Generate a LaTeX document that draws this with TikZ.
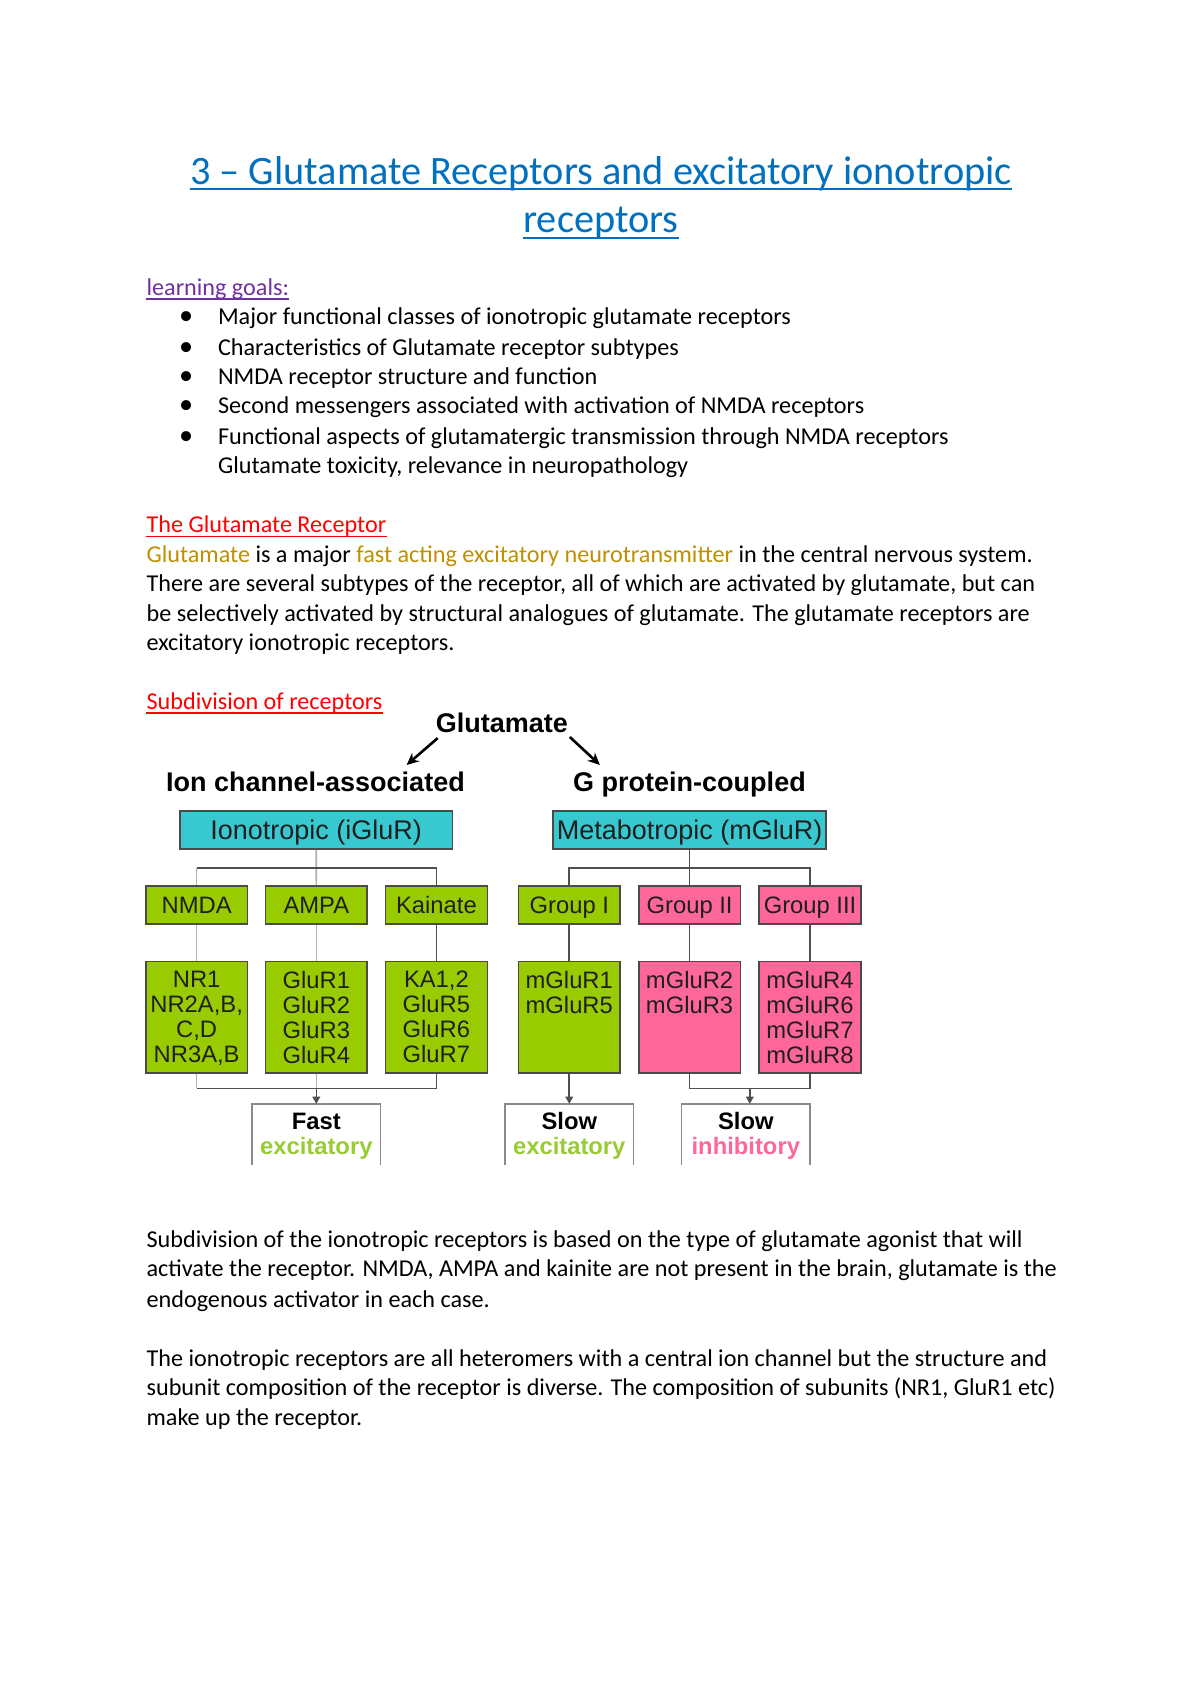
\documentclass[tikz,border=0pt]{standalone}
\usepackage{fontspec}
\setmainfont{Carlito}
\newfontfamily\diafont{Liberation Sans}
\usetikzlibrary{arrows.meta}
\newcommand{\pxu}{0.5373pt}
\definecolor{titleblue}{HTML}{0070C0}
\definecolor{goalpurple}{HTML}{7030A0}
\definecolor{headred}{HTML}{FF0000}
\definecolor{goldtxt}{HTML}{BF9000}
\definecolor{cyanbox}{HTML}{38C9D0}
\definecolor{greenbox}{HTML}{99CC00}
\definecolor{pinkbox}{HTML}{FF6699}
\definecolor{excgreen}{HTML}{99CC33}
\definecolor{inhpink}{HTML}{FF6699}
\definecolor{boxline}{HTML}{4A4A4A}
\definecolor{lightline}{HTML}{B0B0B0}
\definecolor{darkline}{HTML}{505050}
\definecolor{openline}{HTML}{8A8A8A}
\begin{document}
\begin{tikzpicture}[x=0.5373pt,y=-0.5373pt,
  txt/.style={inner sep=0pt, anchor=base west, font=\fontsize{12}{14.6}\selectfont},
  ttl/.style={inner sep=0pt, anchor=base, text=titleblue, font=\fontsize{20}{24}\selectfont},
  bul/.style={inner sep=0pt, anchor=base, font=\fontsize{14}{14.6}\selectfont},
  dlabel/.style={inner sep=0pt, anchor=base, font=\diafont\bfseries\fontsize{13.4}{16}\selectfont},
  rbox/.style={draw=boxline, line width=0.8pt, inner sep=0pt, minimum height=35*\pxu,
    text=black!88, font=\diafont\fontsize{11.8}{12.4}\selectfont, text height=8.45pt, text depth=0pt},
  topbox/.style={rbox, fill=cyanbox, minimum width=252*\pxu, font=\diafont\fontsize{13.4}{14}\selectfont, text height=9.6pt},
  clsbox/.style={rbox, minimum width=94*\pxu},
  subbox/.style={draw=boxline, line width=0.8pt, inner sep=0pt, minimum width=94*\pxu, minimum height=103*\pxu},
  subtxt/.style={inner sep=0pt, anchor=north, align=center, text=black!88, font=\diafont\fontsize{11.8}{12.4}\selectfont},
  outbox/.style={inner sep=0pt, minimum width=118*\pxu, minimum height=55.3*\pxu},
  outline/.style={draw=openline, line width=0.8pt},
  outtxt/.style={inner sep=0pt, anchor=base, font=\diafont\bfseries\fontsize{11.8}{12.4}\selectfont},
  lg/.style={draw=lightline, line width=0.8pt},
  dg/.style={draw=darkline, line width=0.8pt},
  tip/.style={-{Triangle[length=3.6pt,width=3.8pt]}},
  garr/.style={draw=black, line width=1.3pt, -{Stealth[length=6pt,width=5.5pt]}},
  uline/.style={line width=0.8pt}
]
\useasboundingbox (0,0) rectangle (1108,1568);
\fill[white] (0,0) rectangle (1108,1568);

% ---------- title ----------
\node[ttl] (t1) at (555,170) {3 – Glutamate Receptors and excitatory ionotropic};
\node[ttl] (t2) at (555,215) {receptors};
\draw[titleblue, line width=1.1pt] ([yshift=-2.6pt]t1.base west) -- ([yshift=-2.6pt]t1.base east);
\draw[titleblue, line width=1.1pt] ([yshift=-2.6pt]t2.base west) -- ([yshift=-2.6pt]t2.base east);

% ---------- learning goals ----------
\node[txt, text=goalpurple] (lg) at (135,273) {learning goals:};
\draw[goalpurple, uline] ([yshift=-1.8pt]lg.base west) -- ([yshift=-1.8pt]lg.base east);
\node[bul] (b1) at (172,300) {•};
\node[bul] (b2) at (172,328) {•};
\node[bul] (b3) at (172,355) {•};
\node[bul] (b4) at (172,382) {•};
\node[bul] (b5) at (172,410) {•};
\node[txt] (g1l) at (201,300) {Major functional classes of ionotropic glutamate receptors};
\node[txt] (g2l) at (201,328) {Characteristics of Glutamate receptor subtypes};
\node[txt] (g3l) at (201,355) {NMDA receptor structure and function};
\node[txt] (g4l) at (201,382) {Second messengers associated with activation of NMDA receptors};
\node[txt] (g5l) at (201,410) {Functional aspects of glutamatergic transmission through NMDA receptors};
\node[txt] (g6l) at (201,437) {Glutamate toxicity, relevance in neuropathology};

% ---------- The Glutamate Receptor ----------
\node[txt, text=headred] (h1) at (135,492) {The Glutamate Receptor\ };
\draw[headred, uline] ([yshift=-1.8pt]h1.base west) -- ([yshift=-1.8pt]h1.base east);
\node[txt] (p1) at (135,519) {\textcolor{goldtxt}{Glutamate} is a major \textcolor{goldtxt}{fast acting excitatory neurotransmitter} in the central nervous system.};
\node[txt] (p2) at (135,546) {There are several subtypes of the receptor, all of which are activated by glutamate, but can};
\node[txt] (p3) at (135,574) {be selectively activated by structural analogues of glutamate. The glutamate receptors are};
\node[txt] (p4) at (135,601) {excitatory ionotropic receptors.};

\node[txt, text=headred] (h2) at (135,655) {Subdivision of receptors\ };
\draw[headred, uline] ([yshift=-1.8pt]h2.base west) -- ([yshift=-1.8pt]h2.base east);

% ---------- diagram ----------
\node[dlabel] (glu) at (463.5,676.5) {Glutamate};
\node[dlabel] (ion) at (291.3,731) {Ion channel-associated};
\node[dlabel] (gpc) at (636.7,731) {G protein-coupled};
\draw[garr] ([shift={(2,4.5)}]glu.south west) -- (375.5,706.4);
\draw[garr] ([shift={(1.4,3.5)}]glu.south east) -- (554,706.4);

\node[topbox] (iono) at (292,766.5) {Ionotropic (iGluR)};
\node[topbox] (metab) at (636.8,766.5) {Metabotropic (mGluR)};

\node[clsbox, fill=greenbox] (nmda) at (181.6,835.5) {NMDA};
\node[clsbox, fill=greenbox] (ampa) at (292.1,835.5) {AMPA};
\node[clsbox, fill=greenbox] (kain) at (403,835.5) {Kainate};
\node[clsbox, fill=greenbox] (gr1) at (525.7,835.5) {Group I};
\node[clsbox, fill=pinkbox] (gr2) at (636.8,835.5) {Group II};
\node[clsbox, fill=pinkbox] (gr3) at (748,835.5) {Group III};

\node[subbox, fill=greenbox] (nmdas) at (181.6,939.5) {};
\node[subbox, fill=greenbox] (ampas) at (292.1,939.5) {};
\node[subbox, fill=greenbox] (kains) at (403,939.5) {};
\node[subbox, fill=greenbox] (gr1s) at (525.7,939.5) {};
\node[subbox, fill=pinkbox] (gr2s) at (636.8,939.5) {};
\node[subbox, fill=pinkbox] (gr3s) at (748,939.5) {};

\node[subtxt] at (181.6,896.3) {NR1\\NR2A,B,\\C,D\\NR3A,B};
\node[subtxt] at (292.1,896.3) {GluR1\\GluR2\\GluR3\\GluR4};
\node[subtxt] at (403,896.3) {KA1,2\\GluR5\\GluR6\\GluR7};
\node[subtxt] at (525.7,896.3) {mGluR1\\mGluR5};
\node[subtxt] at (636.8,896.3) {mGluR2\\mGluR3};
\node[subtxt] at (748,896.3) {mGluR4\\mGluR6\\mGluR7\\mGluR8};

% outcome boxes (open at the bottom)
\node[outbox] (fast) at (292.1,1047.4) {};
\node[outbox] (sexc) at (525.7,1047.4) {};
\node[outbox] (sinh) at (688.7,1047.4) {};
\draw[outline] (fast.south west) -- (fast.north west) -- (fast.north east) -- (fast.south east);
\draw[outline] (sexc.south west) -- (sexc.north west) -- (sexc.north east) -- (sexc.south east);
\draw[outline] (sinh.south west) -- (sinh.north west) -- (sinh.north east) -- (sinh.south east);
\node[outtxt] at (292.1,1042.7) {Fast};
\node[outtxt, text=excgreen] at (292.1,1066.5) {excitatory};
\node[outtxt] at (525.7,1042.7) {Slow};
\node[outtxt, text=excgreen] at (525.7,1066.5) {excitatory};
\node[outtxt] at (688.7,1042.7) {Slow};
\node[outtxt, text=inhpink] at (688.7,1066.5) {inhibitory};

% connectors: ionotropic tree
\coordinate (ibar) at (292,801.7);
\draw[lg] (iono.south) -- (ampa.north);
\draw[lg] (nmda.north) -- (nmda.north |- ibar);
\draw[dg] (nmda.north |- ibar) -- (kain.north |- ibar) -- (kain.north);
\draw[lg] (nmda.south) -- (nmdas.north);
\draw[lg] (ampa.south) -- (ampas.north);
\draw[dg] (kain.south) -- (kains.north);
\coordinate (fbar) at (292.1,1005);
\draw[lg] (nmdas.south) -- (nmdas.south |- fbar);
\draw[lg] (ampas.south) -- (ampas.south |- fbar);
\draw[dg] (nmdas.south |- fbar) -- (kains.south |- fbar) -- (kains.south);
\draw[dg, tip] (fbar) -- (fast.north);

% connectors: metabotropic tree
\coordinate (mbar) at (636.8,801.7);
\draw[dg] (metab.south) -- (gr2.north);
\draw[dg] (gr1.north) -- (gr1.north |- mbar) -- (gr3.north |- mbar) -- (gr3.north);
\draw[dg] (gr1.south) -- (gr1s.north);
\draw[dg] (gr2.south) -- (gr2s.north);
\draw[dg] (gr3.south) -- (gr3s.north);
\draw[dg, tip] (gr1s.south) -- (sexc.north);
\coordinate (rbar) at (692.4,1005);
\draw[dg] (gr2s.south) -- (gr2s.south |- rbar) -- (gr3s.south |- rbar) -- (gr3s.south);
\draw[dg, tip] (rbar) -- (rbar |- sinh.north);

% ---------- closing paragraphs ----------
\node[txt] (q1) at (135,1152) {Subdivision of the ionotropic receptors is based on the type of glutamate agonist that will};
\node[txt] (q2) at (135,1179) {activate the receptor. NMDA, AMPA and kainite are not present in the brain, glutamate is the};
\node[txt] (q3) at (135,1207) {endogenous activator in each case.};
\node[txt] (r1) at (135,1262) {The ionotropic receptors are all heteromers with a central ion channel but the structure and};
\node[txt] (r2) at (135,1289) {subunit composition of the receptor is diverse. The composition of subunits (NR1, GluR1 etc)};
\node[txt] (r3) at (135,1316) {make up the receptor.};
\end{tikzpicture}
\end{document}
